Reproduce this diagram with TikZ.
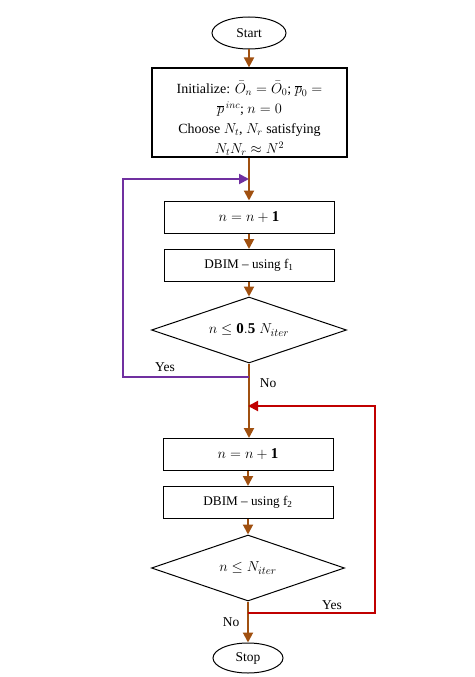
\documentclass[tikz,border=0pt]{standalone}
\usepackage{fontspec}
\setmainfont{Liberation Serif}
\usetikzlibrary{shapes.geometric,arrows.meta}
\definecolor{brn}{RGB}{160,80,16}
\definecolor{pur}{RGB}{112,48,160}
\definecolor{rd}{RGB}{192,0,0}
\tikzset{
  box/.style={draw=black,line width=1pt,rectangle,minimum width=170pt,minimum height=32pt,inner sep=0pt,font=\fontsize{13.2}{15}\selectfont},
  term/.style={draw=black,line width=1pt,ellipse,inner sep=0pt,font=\fontsize{13.5}{15}\selectfont},
  dec/.style={draw=black,line width=1pt,diamond,shape aspect=2.95,minimum width=195pt,minimum height=66pt,inner sep=0pt,font=\fontsize{15}{17}\selectfont},
  flow/.style={draw=brn,line width=2pt,-{Triangle[length=10pt,width=10pt]}},
  loopa/.style={draw=pur,line width=2pt,-{Triangle[length=10pt,width=10pt]}},
  loopb/.style={draw=rd,line width=2pt,-{Triangle[length=10pt,width=10pt]}},
  lbl/.style={font=\fontsize{13.5}{15}\selectfont,inner sep=0pt}
}
\begin{document}
\begin{tikzpicture}[x=1pt,y=-1pt]
\useasboundingbox (0,0) rectangle (474,677);
\node[term,minimum width=74pt,minimum height=32pt] (start) at (249,33) {Start};
\node[draw=black,line width=1.2pt,rectangle,minimum width=195pt,minimum height=89pt,inner sep=0pt,align=center,font=\fontsize{14}{20}\selectfont] (init) at (249.5,112.5)
 {\rule{0pt}{24pt}Initialize: $\bar{O}_n=\bar{O}_0$;\ $\overline{p}_0=$\\ $\overline{p}^{\,inc}$; $n=0$\\ Choose $N_t$, $N_r$ satisfying\\ $N_tN_r\approx N^2$};
\node[box,font=\fontsize{15}{17}\selectfont] (inc1) at (249,217) {$n=n+\mathbf{1}$};
\node[box] (dbim1) at (249,265.5) {DBIM -- using f\textsubscript{1}};
\node[dec] (dia1) at (249,330) {$n\le\mathbf{0.5}\;N_{iter}$};
\node[box,font=\fontsize{15}{17}\selectfont] (inc2) at (248,454.5) {$n=n+\mathbf{1}$};
\node[box] (dbim2) at (248,502.5) {DBIM -- using f\textsubscript{2}};
\node[dec,minimum width=193pt] (dia2) at (248,568) {$n\le N_{iter}$};
\node[term,minimum width=70pt,minimum height=30pt] (stop) at (248,658) {Stop};
\coordinate (p1) at (249,377);
\coordinate (p2) at (249,179);
\coordinate (pl1) at (123,377);
\coordinate (pl2) at (123,179);
\coordinate (r1) at (248,613);
\coordinate (r2) at (248,406);
\coordinate (rr1) at (375,613);
\coordinate (rr2) at (375,406);
\draw[flow] (start.south) -- (init.north -| start.south);
\draw[flow] (init.south -| inc1.north) -- (inc1.north);
\draw[flow] (inc1.south) -- (dbim1.north);
\draw[flow] (dbim1.south) -- (dia1.north);
\draw[flow] (dia1.south) -- (dia1.south |- inc2.north);
\draw[flow] (inc2.south) -- (dbim2.north);
\draw[flow] (dbim2.south) -- (dia2.north);
\draw[flow] (dia2.south) -- (stop.north);
\draw[loopa] (p1) -- (pl1) -- (pl2) -- (p2);
\draw[loopb] (r1) -- (rr1) -- (rr2) -- (r2);
\node[lbl] (y1) at (165,367) {Yes};
\node[lbl] (n1) at (268,383) {No};
\node[lbl] (y2) at (332,605) {Yes};
\node[lbl] (n2) at (231,622) {No};
\end{tikzpicture}
\end{document}
